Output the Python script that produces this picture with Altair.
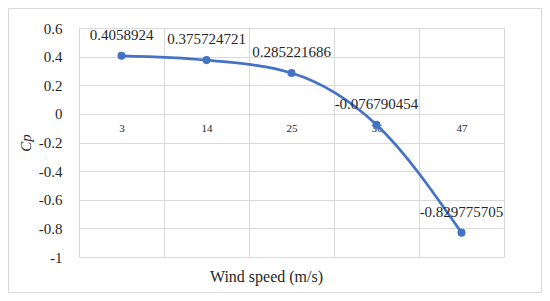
import altair as alt
import pandas as pd

speeds = ["3", "14", "25", "36", "47"]
cp_values = [0.4058924, 0.375724721, 0.285221686, -0.076790454, -0.829775705]
cp_labels = ["0.4058924", "0.375724721", "0.285221686", "-0.076790454", "-0.829775705"]
y_ticks = [-1, -0.8, -0.6, -0.4, -0.2, 0, 0.2, 0.4, 0.6]

df = pd.DataFrame({"speed": speeds, "cp": cp_values, "label": cp_labels})

FONT = "'Liberation Serif', 'DejaVu Serif', serif"
BLUE = "#4472C4"
GRID = "#d9d9d9"
TXT = "#262626"
W, H = 425, 229

x_enc = alt.X(
    "speed:O",
    sort=speeds,
    scale=alt.Scale(type="band", paddingInner=0, paddingOuter=0),
    axis=alt.Axis(
        title="Wind speed (m/s)",
        grid=True, gridColor=GRID, gridWidth=1,
        tickBand="extent",
        domain=False, ticks=False,
        labelAngle=0, labelFont=FONT, labelFontSize=11, labelColor=TXT,
        labelBaseline="middle", labelPadding=-129,
        titleFont=FONT, titleFontSize=16, titleFontWeight="normal", titleColor=TXT,
        titleX=187, titleY=19, titleAlign="center", titleBaseline="middle",
    ),
)
y_enc = alt.Y(
    "cp:Q",
    scale=alt.Scale(domain=[-1, 0.6], nice=False, zero=False),
    axis=alt.Axis(
        title="Cp",
        values=y_ticks,
        labelExpr="datum.value == 0 ? '0' : toString(round(datum.value * 10) / 10)",
        grid=True, gridColor=GRID, gridWidth=1,
        domain=False, ticks=False,
        labelFont=FONT, labelFontSize=15, labelColor=TXT, labelPadding=17,
        titleFont=FONT, titleFontSize=15, titleFontStyle="italic", titleFontWeight="normal",
        titleColor=TXT, titleX=-54, titleY=114.5, titleAlign="center", titleBaseline="middle",
        titleAngle=-90,
    ),
)

base = alt.Chart(df)
line = base.mark_line(color=BLUE, strokeWidth=2.75, interpolate="monotone").encode(x=x_enc, y=y_enc)
points = base.mark_point(filled=True, opacity=1, color=BLUE, size=65, shape="circle").encode(x=x_enc, y=y_enc)
labels = base.mark_text(font=FONT, fontSize=15, color=TXT, baseline="middle", dy=-21).encode(
    x=x_enc, y=y_enc, text="label:N"
)

border = alt.Chart(pd.DataFrame({"a": [0]})).mark_rect(
    fill=None, stroke=GRID, strokeWidth=1
).encode(
    x=alt.value(-70.5), x2=alt.value(W + 37.5),
    y=alt.value(-19.5), y2=alt.value(H + 35.5),
)

chart = alt.layer(border, line, points, labels).properties(
    width=W, height=H,
    autosize=alt.AutoSizeParams(type="none"),
    padding={"left": 71, "top": 20, "right": 38, "bottom": 36},
).configure_view(stroke=None).configure(background="white")

chart.save("out.html", embed_options={"renderer": "svg", "actions": False})
